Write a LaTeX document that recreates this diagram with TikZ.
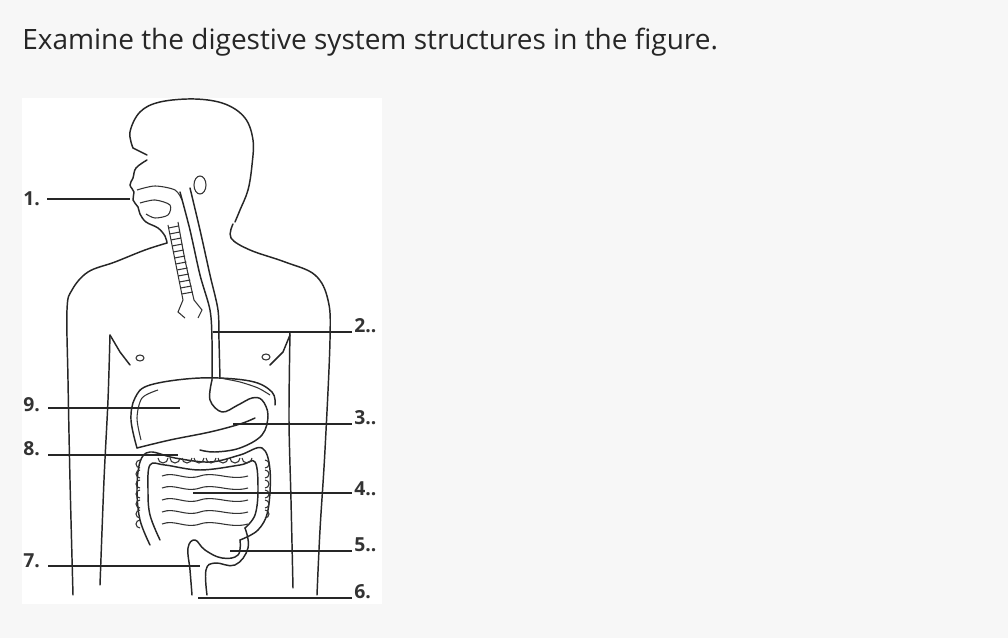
\documentclass[tikz,border=0pt]{standalone}
\usepackage{fontspec}
\setmainfont{Open Sans}
\begin{document}
\begin{tikzpicture}[x=0.75pt,y=-0.75pt,
  body/.style={line width=1.1pt,black!85,line join=round,line cap=round},
  thin/.style={line width=0.8pt,black!80},
  lab/.style={line width=1.3pt,black!85},
  num/.style={font=\fontsize{14.5}{16}\selectfont\bfseries,text=black!80,inner sep=0pt}]
\fill[white!97!black] (0,0) rectangle (1008,638);
\useasboundingbox (0,0) rectangle (1008,638);
\fill[white] (22,98) rectangle (382,604);
\node[anchor=west,inner sep=0pt,font=\fontsize{21}{24}\selectfont,text=black!85] (title) at (22,42) {Examine the digestive system structures in the figure.};
% head and face
\draw[body] plot[smooth,tension=0.6] coordinates {(147,160)(136,168)(133,178)(130,185)(134,192)(133,200)(138,207)(140,214)(146,222)(158,228)(165,236)(167,243)};
% hair
\draw[body] plot[smooth,tension=0.6] coordinates {(133,148)(130,132)(140,112)(160,102)(195,99)(225,104)(245,118)(253,140)(252,165)(248,190)(240,210)(235,222)};
\draw[body] (133,148) -- (147,155);
% neck and shoulders
\draw[body] plot[smooth,tension=0.6] coordinates {(167,243)(145,250)(115,262)(88,272)(72,290)(67,310)(68,380)(70,480)(73,595)};
\draw[body] plot[smooth,tension=0.6] coordinates {(233,224)(231,238)(250,250)(285,262)(315,275)(328,300)(330,340)(325,450)(320,530)(317,595)};
% ear
\draw[thin] (200,185) circle[x radius=6,y radius=9];
% inner arms / chest
\draw[body] plot[smooth] coordinates {(110,335)(108,400)(104,480)(100,585)};
\draw[body] (110,335) -- (120,352) -- (130,365);
\draw[body] plot[smooth] coordinates {(290,332)(289,420)(291,500)(293,588)};
\draw[body] (290,335) -- (283,352) -- (270,365);
\draw[thin] (140,358) circle[x radius=4,y radius=3];
\draw[thin] (266,357) circle[x radius=4,y radius=3];
% mouth cavity
\draw[thin] plot[smooth] coordinates {(137,190)(155,186)(175,190)(182,200)};
\draw[thin] plot[smooth] coordinates {(140,203)(155,200)(170,205)(168,215)(155,218)(146,214)};
% esophagus
\draw[body] plot[smooth] coordinates {(180,192)(190,230)(200,275)(210,310)(212,340)(212,380)};
\draw[body] plot[smooth] coordinates {(190,188)(200,230)(210,275)(218,310)(219,340)(220,378)};
% trachea
\draw[thin] plot[smooth] coordinates {(168,225)(175,260)(183,300)};
\draw[thin] plot[smooth] coordinates {(178,222)(185,260)(194,300)};
\foreach \t in {0,...,11}{\draw[thin] (168.5+\t*1.2,228+\t*6) -- (178.5+\t*1.3,226+\t*6);}
\draw[thin] (183,300) -- (178,312) -- (185,318);
\draw[thin] (194,300) -- (202,310) -- (198,318);
% liver
\draw[body] plot[smooth,tension=0.6] coordinates {(137,448)(131,420)(135,398)(150,385)(200,378)(250,381)(272,392)(275,405)};
\draw[body] plot[smooth,tension=0.6] coordinates {(137,448)(170,440)(210,432)(240,424)(255,418)};
\draw[thin] plot[smooth] coordinates {(141,440)(137,418)(142,398)(158,390)};
% stomach
\draw[body] plot[smooth,tension=0.6] coordinates {(212,380)(210,400)(222,412)(238,405)(252,398)(262,400)(268,415)(262,435)(240,448)(215,452)(200,450)};
\draw[thin] plot[smooth] coordinates {(220,378)(240,382)(258,388)(270,395)};
% large intestine
\draw[body] plot[smooth,tension=0.6] coordinates {(150,545)(140,520)(137,490)(140,462)(150,452)(175,458)(210,462)(240,455)(262,448)(270,470)(268,510)(258,530)(240,540)};
\draw[body] plot[smooth,tension=0.6] coordinates {(160,540)(150,515)(148,490)(150,465)(165,465)(200,470)(240,465)(255,462)(258,490)(255,515)(245,528)};
\foreach \y in {468,478,...,528}{\draw[thin] (140,\y) arc[start angle=90,end angle=270,radius=4];}
\foreach \y in {468,478,...,518}{\draw[thin] (265,\y) arc[start angle=90,end angle=-90,radius=4];}
\foreach \x in {158,170,...,250}{\draw[thin] (\x,458) arc[start angle=180,end angle=0,radius=5];}
% small intestine loops
\foreach \y in {476,488,...,526}{
  \draw[thin] (162,\y) .. controls (175,\y-5) and (185,\y+5) .. (200,\y) .. controls (215,\y-5) and (230,\y+5) .. (248,\y);
}
% sigmoid and rectum
\draw[body] plot[smooth,tension=0.7] coordinates {(240,540)(238,555)(222,558)(205,550)(195,540)(188,548)(190,570)(192,595)};
\draw[body] plot[smooth,tension=0.7] coordinates {(245,528)(248,548)(235,565)(215,563)(206,570)(207,595)};
% labels
\node[num,anchor=west] (n1) at (23,199) {1.};
\coordinate (e1) at (130,199);
\draw[lab] (47,199) -- (e1);
\node[num,anchor=west] (n9) at (23,405) {9.};
\coordinate (e9) at (180,408);
\draw[lab] (48,408) -- (e9);
\node[num,anchor=west] (n8) at (23,449) {8.};
\coordinate (e8) at (178,455);
\draw[lab] (48,455) -- (e8);
\node[num,anchor=west] (n7) at (23,561) {7.};
\coordinate (e7) at (200,566);
\draw[lab] (48,566) -- (e7);
\node[num,anchor=west] (n2) at (354,326) {2..};
\coordinate (e2) at (213,332);
\draw[lab] (e2) -- (352,332);
\node[num,anchor=west] (n3) at (354,418) {3..};
\coordinate (e3) at (233,424);
\draw[lab] (e3) -- (352,424);
\node[num,anchor=west] (n4) at (354,489) {4..};
\coordinate (e4) at (193,493);
\draw[lab] (e4) -- (352,493);
\node[num,anchor=west] (n5) at (354,545) {5..};
\coordinate (e5) at (230,551);
\draw[lab] (e5) -- (352,551);
\node[num,anchor=west] (n6) at (354,592) {6.};
\coordinate (e6) at (198,598);
\draw[lab] (e6) -- (352,598);
\end{tikzpicture}
\end{document}
